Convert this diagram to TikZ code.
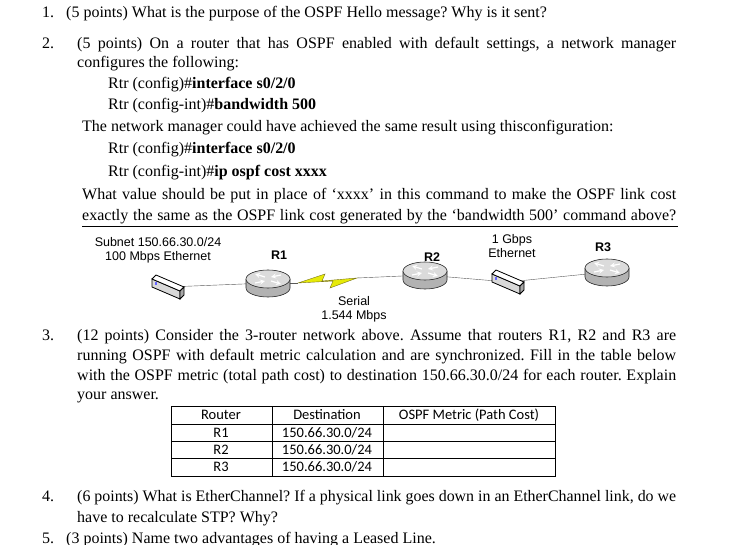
\documentclass[tikz,border=0pt]{standalone}
\usepackage{fontspec}
\usepackage{graphicx}
\setmainfont{Liberation Serif}
\newfontfamily\arialf{Liberation Sans}
\newfontfamily\calf{Carlito}
\newsavebox\jbox
\frenchspacing
\begin{document}
\begin{tikzpicture}[x=1pt,y=-1pt,
  txt/.style={anchor=base west,inner sep=0pt,font=\fontsize{16}{18}\selectfont},
  lbl/.style={inner sep=0pt,font=\arialf\fontsize{12.5}{14}\selectfont,align=center},
  blbl/.style={inner sep=0pt,font=\arialf\bfseries\fontsize{12.5}{14}\selectfont},
  cell/.style={inner sep=0pt,font=\calf\fontsize{14.5}{16}\selectfont}]
\useasboundingbox (0,0) rectangle (744,545);
\newcommand{\jl}[3]{\node[txt] at (#1) {\fontsize{16}{18}\selectfont\sbox\jbox{#3}%
  \pgfmathsetmacro{\rr}{min(1,#2/(\the\wd\jbox))}%
  \pgfmathsetmacro{\ww}{#2/\rr}%
  \scalebox{\rr}[1]{\makebox[\ww pt][s]{#3}}};}
\newcommand{\sqz}[3]{\node[txt] at (#1) {\fontsize{16}{18}\selectfont\sbox\jbox{#3}%
  \pgfmathsetmacro{\rr}{min(1,#2/(\the\wd\jbox))}%
  \scalebox{\rr}[1]{#3}};}
\node[txt] at (42,18) {1.};
\sqz{66,18}{506}{(5 points) What is the purpose of the OSPF Hello message? Why is it sent?}
\node[txt] at (42,49) {2.};
\jl{77,49}{599}{(5 points) On a router that has OSPF enabled with default settings, a network manager}
\node[txt] at (77,68) {configures the following:};
\sqz{108,89}{218}{Rtr (config)\#\textbf{interface s0/2/0}}
\sqz{108,110}{242}{Rtr (config-int)\#\textbf{bandwidth 500}}
\sqz{82,132}{560}{The network manager could have achieved the same result using thisconfiguration:}
\sqz{108,154}{218}{Rtr (config)\#\textbf{interface s0/2/0}}
\sqz{108,177}{222}{Rtr (config-int)\#\textbf{ip ospf cost xxxx}}
\jl{82,200}{594}{What value should be put in place of `xxxx' in this command to make the OSPF link cost}
\jl{82,221}{594}{exactly the same as the OSPF link cost generated by the `bandwidth 500' command above?}
\draw[line width=0.8pt] (82,226) -- (678,226);
% diagram labels
\node[lbl] at (158,250) {Subnet 150.66.30.0/24\\100 Mbps Ethernet};
\node[blbl] at (279,255) {R1};
\node[blbl] at (432,257) {R2};
\node[lbl] at (512,246) {1 Gbps\\Ethernet};
\node[blbl] at (603,247) {R3};
\node[lbl] at (354,309) {Serial\\1.544 Mbps};
% devices
\coordinate (sw1) at (168,287);
\coordinate (r1) at (268,283);
\coordinate (r2) at (425,275);
\coordinate (sw2) at (508,282);
\coordinate (r3) at (607,272);
\coordinate (b1) at (298,283);
\coordinate (b2) at (357,278);
\draw[gray!70!black] (sw1) -- (r1);
\draw[gray!70!black] (r2) -- (sw2) -- (r3);
\draw[gray!70!black] (r1) -- (b1);
\draw[gray!70!black] (b2) -- (r2);
\fill[yellow!90!green,draw=olive!80!black,line width=0.4pt] (b1) -- (325,274) -- (322,281) -- (b2) -- (330,288) -- (333,281) -- cycle;
\foreach \p in {r1,r2,r3}{
  \begin{scope}[shift={(\p)}]
  \fill[gray!60] (-22,-4) -- (-22,5) arc[start angle=180,end angle=0,x radius=22,y radius=9] -- (22,-4) -- cycle;
  \draw[gray!30!black,line width=0.6pt] (-22,-4) -- (-22,5) arc[start angle=180,end angle=0,x radius=22,y radius=9] -- (22,-4);
  \fill[gray!28,draw=gray!30!black,line width=0.6pt] (0,-4) ellipse[x radius=22,y radius=9];
  \draw[white,line width=1.2pt,->,>=stealth] (-3,-6) -- (-13,-9);
  \draw[white,line width=1.2pt,->,>=stealth] (3,-2) -- (13,1);
  \draw[white,line width=1.2pt,->,>=stealth] (-13,0) -- (-3,-2);
  \draw[white,line width=1.2pt,->,>=stealth] (13,-8) -- (3,-6);
  \end{scope}}
\foreach \p in {sw1,sw2}{
  \begin{scope}[shift={(\p)}]
  \fill[gray!30,draw=black,line width=0.8pt] (-16,-8) -- (12,4) -- (12,12) -- (-16,0) -- cycle;
  \fill[white,draw=black,line width=0.8pt] (-16,-8) -- (-12,-12) -- (16,0) -- (12,4) -- cycle;
  \fill[gray!70,draw=black,line width=0.8pt] (12,4) -- (16,0) -- (16,8) -- (12,12) -- cycle;
  \fill[blue!60] (-13,-5) rectangle (-11,-2);
  \end{scope}}
% question 3
\node[txt] at (42,340) {3.};
\jl{77,340}{599}{(12 points) Consider the 3-router network above. Assume that routers R1, R2 and R3 are}
\jl{77,360}{599}{running OSPF with default metric calculation and are synchronized. Fill in the table below}
\jl{77,380}{599}{with the OSPF metric (total path cost) to destination 150.66.30.0/24 for each router. Explain}
\node[txt] at (77,399) {your answer.};
% table
\draw[line width=0.7pt] (171,406) rectangle (555,476);
\foreach \yy in {424,441,458} \draw[line width=0.7pt] (171,\yy) -- (555,\yy);
\draw[line width=0.7pt] (272,406) -- (272,476);
\draw[line width=0.7pt] (383,406) -- (383,476);
\node[cell] (h1) at (221,415) {Router};
\node[cell] (h2) at (327,415) {Destination};
\node[cell] (h3) at (469,415) {OSPF Metric (Path Cost)};
\foreach \r/\yy in {R1/432.5,R2/449.5,R3/467}{
  \node[cell] at (221,\yy) {\r};
  \node[cell] at (327,\yy) {150.66.30.0/24};}
% 4, 5
\node[txt] at (42,501) {4.};
\jl{77,501}{599}{(6 points) What is EtherChannel? If a physical link goes down in an EtherChannel link, do we}
\node[txt] at (77,522) {have to recalculate STP? Why?};
\node[txt] at (42,543) {5.};
\sqz{66,543}{408}{(3 points) Name two advantages of having a Leased Line.}
\end{tikzpicture}
\end{document}
